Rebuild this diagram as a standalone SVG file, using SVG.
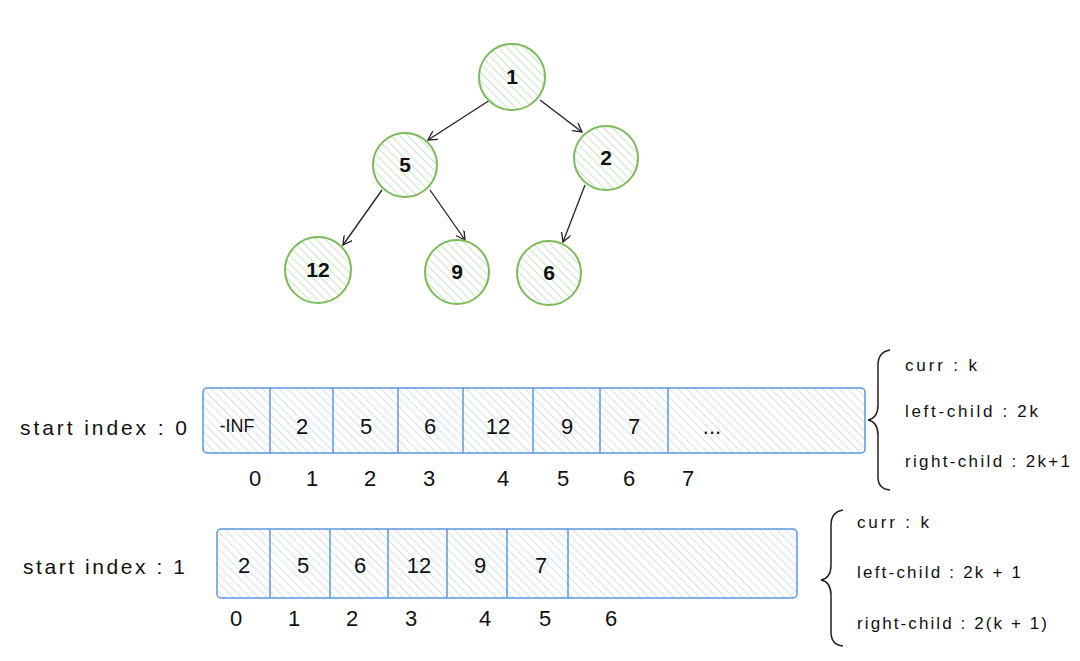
<svg xmlns="http://www.w3.org/2000/svg" width="1080" height="661" viewBox="0 0 1080 661">
<style>
.n circle{fill:url(#hg);stroke:#7cba5a;stroke-width:2}
.n text{font-family:"Liberation Sans",sans-serif;font-weight:bold;font-size:21px;text-anchor:middle;fill:#111}
.arr{fill:url(#hb);stroke:#5b97e0;stroke-width:1.5}
.dv{stroke:#5b97e0;stroke-width:1.5}
.t{font-family:"Liberation Sans",sans-serif;font-size:22px;fill:#111;text-anchor:middle}
.l{font-family:"Liberation Sans",sans-serif;font-size:21px;fill:#111}
.s{font-family:"Liberation Sans",sans-serif;font-size:17px;fill:#111}
.c line{stroke:#222;stroke-width:1.3;marker-end:url(#ah)}
.br{fill:none;stroke:#222;stroke-width:1.5}
</style>
<defs>
<pattern id="hg" width="6" height="6" patternUnits="userSpaceOnUse" patternTransform="rotate(-45)"><rect width="6" height="6" fill="#fff"/><line x1="0" y1="0" x2="0" y2="6" stroke="#a8d49a" stroke-width="1.2"/></pattern>
<pattern id="hb" width="6" height="6" patternUnits="userSpaceOnUse" patternTransform="rotate(-45)"><rect width="6" height="6" fill="#fff"/><line x1="0" y1="0" x2="0" y2="6" stroke="#b8cbe8" stroke-width="1.2"/></pattern>
<marker id="ah" markerWidth="10" markerHeight="10" refX="9" refY="5" orient="auto" markerUnits="userSpaceOnUse"><path d="M0,0 L9,5 L0,10" fill="none" stroke="#222" stroke-width="1.3"/></marker>
</defs>
<g class="c">
<line x1="490" y1="100" x2="428" y2="140"/>
<line x1="540" y1="100" x2="582" y2="132"/>
<line x1="382" y1="190" x2="343" y2="245"/>
<line x1="430" y1="190" x2="465" y2="240"/>
<line x1="585" y1="185" x2="563" y2="242"/>
</g>
<g id="n1" class="n"><circle cx="512" cy="77" r="33"/><text x="512" y="84">1</text></g>
<g id="n5" class="n"><circle cx="405" cy="165" r="32"/><text x="405" y="172">5</text></g>
<g id="n2" class="n"><circle cx="606" cy="158" r="32"/><text x="606" y="165">2</text></g>
<g id="n12" class="n"><circle cx="318" cy="270" r="33"/><text x="318" y="277">12</text></g>
<g id="n9" class="n"><circle cx="457" cy="272" r="32"/><text x="457" y="279">9</text></g>
<g id="n6" class="n"><circle cx="549" cy="273" r="32"/><text x="549" y="280">6</text></g>
<g id="array0">
<rect class="arr" x="203" y="388" width="662" height="65" rx="4"/>
<g class="dv"><line x1="270" y1="388" x2="270" y2="453"/><line x1="333" y1="388" x2="333" y2="453"/><line x1="398" y1="388" x2="398" y2="453"/><line x1="463" y1="388" x2="463" y2="453"/><line x1="533" y1="388" x2="533" y2="453"/><line x1="600" y1="388" x2="600" y2="453"/><line x1="668" y1="388" x2="668" y2="453"/></g>
<text class="t" x="237" y="432" style="font-size:18px">-INF</text>
<text class="t" x="302" y="434">2</text><text class="t" x="366" y="434">5</text><text class="t" x="430" y="434">6</text><text class="t" x="498" y="434">12</text><text class="t" x="567" y="434">9</text><text class="t" x="634" y="434">7</text><text class="t" x="712" y="434">...</text>
<text class="t" x="255" y="486">0</text><text class="t" x="312" y="486">1</text><text class="t" x="370" y="486">2</text><text class="t" x="429" y="486">3</text><text class="t" x="503" y="486">4</text><text class="t" x="563" y="486">5</text><text class="t" x="629" y="486">6</text><text class="t" x="688" y="486">7</text>
</g>
<g id="array1">
<rect class="arr" x="217" y="529" width="580" height="69" rx="4"/>
<g class="dv"><line x1="270" y1="529" x2="270" y2="598"/><line x1="330" y1="529" x2="330" y2="598"/><line x1="388" y1="529" x2="388" y2="598"/><line x1="447" y1="529" x2="447" y2="598"/><line x1="507" y1="529" x2="507" y2="598"/><line x1="568" y1="529" x2="568" y2="598"/></g>
<text class="t" x="244" y="573">2</text><text class="t" x="303" y="573">5</text><text class="t" x="360" y="573">6</text><text class="t" x="419" y="573">12</text><text class="t" x="480" y="573">9</text><text class="t" x="541" y="573">7</text>
<text class="t" x="236" y="626">0</text><text class="t" x="294" y="626">1</text><text class="t" x="352" y="626">2</text><text class="t" x="411" y="626">3</text><text class="t" x="485" y="626">4</text><text class="t" x="545" y="626">5</text><text class="t" x="611" y="626">6</text>
</g>
<text class="l" x="20" y="435" textLength="167" lengthAdjust="spacing">start index : 0</text>
<text class="l" x="23" y="574" textLength="162" lengthAdjust="spacing">start index : 1</text>
<g id="brace0">
<path class="br" d="M890,350 Q878,352 878,365 L878,405 Q878,418 868,420 Q878,422 878,435 L878,477 Q878,489 890,490"/>
<text class="s" x="905" y="371" textLength="72" lengthAdjust="spacing">curr : k</text>
<text class="s" x="905" y="417" textLength="133" lengthAdjust="spacing">left-child : 2k</text>
<text class="s" x="905" y="467" textLength="165" lengthAdjust="spacing">right-child : 2k+1</text>
</g>
<g id="brace1">
<path class="br" d="M843,510 Q831,512 831,525 L831,565 Q831,578 821,580 Q831,582 831,595 L831,632 Q831,645 843,646"/>
<text class="s" x="857" y="528" textLength="72" lengthAdjust="spacing">curr : k</text>
<text class="s" x="857" y="578" textLength="164" lengthAdjust="spacing">left-child : 2k + 1</text>
<text class="s" x="857" y="629" textLength="190" lengthAdjust="spacing">right-child : 2(k + 1)</text>
</g>
</svg>
